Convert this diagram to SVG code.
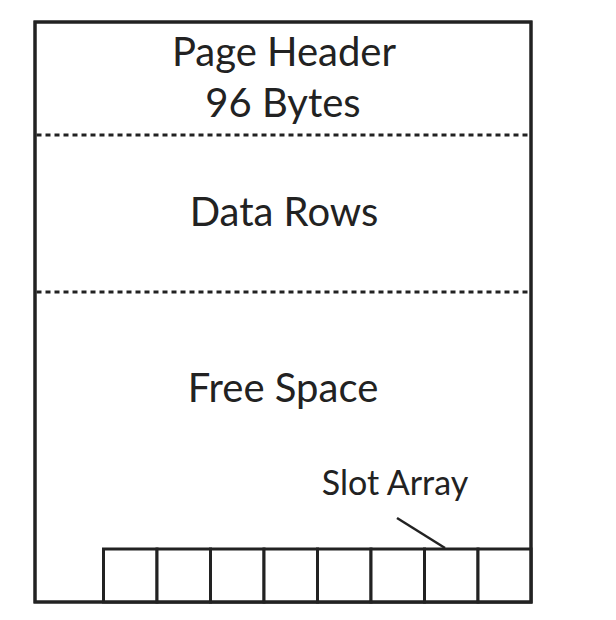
<svg xmlns="http://www.w3.org/2000/svg" width="616" height="620" viewBox="0 0 616 620">
<style>
.t{font-family:Lato,"Open Sans","Liberation Sans",sans-serif;fill:#222;text-anchor:middle}
.big{font-size:40px}
.small{font-size:34px}
.dash{stroke:#222;stroke-width:3;stroke-dasharray:5 4;fill:none}
.box{stroke:#222;stroke-width:3;fill:#fff}
.slot{stroke:#222;stroke-width:3;fill:#fff}
</style>
<rect width="616" height="620" fill="#fff"/>
<g id="page">
<rect class="box" x="35" y="22" width="496" height="580"/>
</g>
<g id="header">
<text class="t big" x="284" y="66">Page Header</text>
<text class="t big" x="283" y="117">96 Bytes</text>
</g>
<g id="data-rows">
<text class="t big" x="284" y="226">Data Rows</text>
</g>
<g id="free-space">
<text class="t big" x="283" y="402">Free Space</text>
</g>
<g id="dividers">
<line class="dash" x1="36.5" y1="135" x2="529.5" y2="135"/>
<line class="dash" x1="36.5" y1="292" x2="529.5" y2="292"/>
</g>
<g id="slot-array">
<rect class="slot" x="103.5" y="549" width="53.5" height="53"/>
<rect class="slot" x="157" y="549" width="53.5" height="53"/>
<rect class="slot" x="210.5" y="549" width="53.5" height="53"/>
<rect class="slot" x="264" y="549" width="53.5" height="53"/>
<rect class="slot" x="317.5" y="549" width="53.5" height="53"/>
<rect class="slot" x="371" y="549" width="53.5" height="53"/>
<rect class="slot" x="424.5" y="549" width="53.5" height="53"/>
<rect class="slot" x="478" y="549" width="53" height="53"/>
<text class="t small" x="395" y="495">Slot Array</text>
</g>
<g id="connectors">
<line x1="397" y1="518" x2="445" y2="548" stroke="#222" stroke-width="2.5"/>
</g>
<rect x="35" y="22" width="496" height="580" fill="none" stroke="#222" stroke-width="3"/>
</svg>
